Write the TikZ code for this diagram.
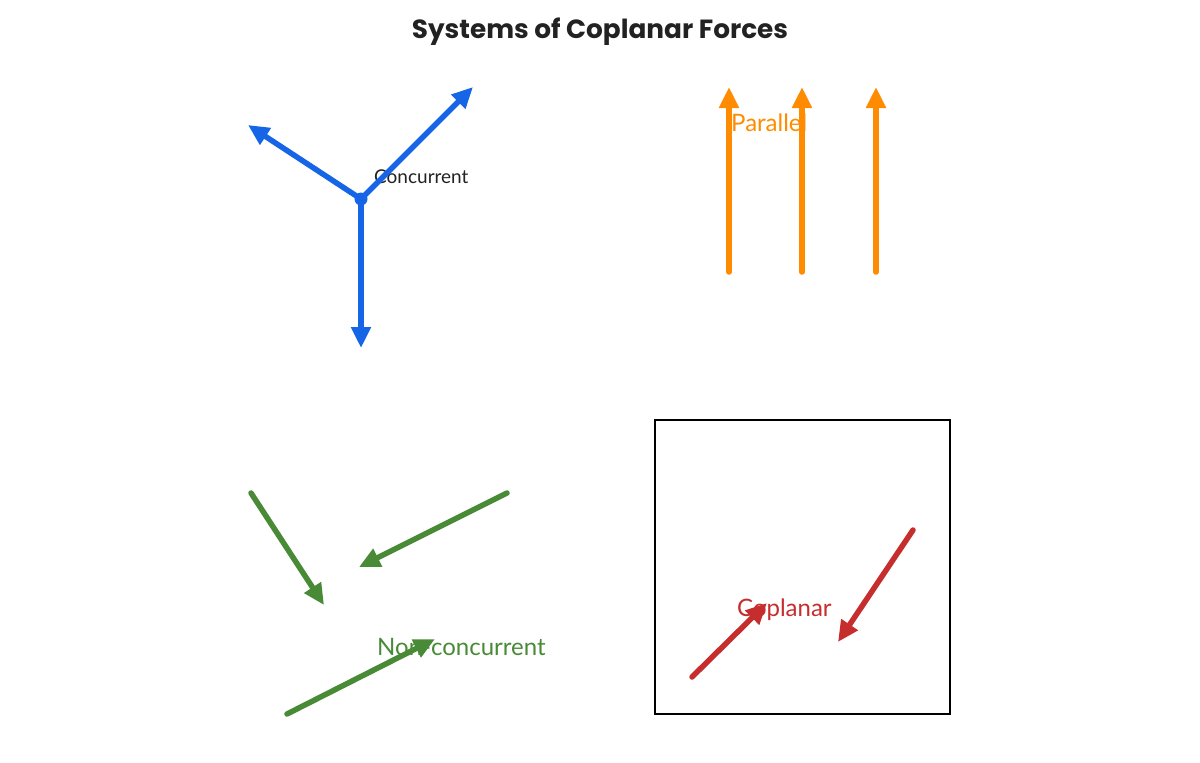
\documentclass[tikz,border=0pt]{standalone}
\usepackage{fontspec}
\setmainfont{Poppins}
\newfontfamily\labelfont{Lato}
\usetikzlibrary{arrows.meta}
\definecolor{cblue}{HTML}{1565E6}
\definecolor{corange}{HTML}{FF8C00}
\definecolor{cgreen}{HTML}{488A36}
\definecolor{cred}{HTML}{C62D2D}
\definecolor{ctitle}{HTML}{222222}
\tikzset{
  force/.style={line width=5.5pt, line cap=round, -{Triangle[length=21pt,width=19pt]}},
  lbl/.style={anchor=west, inner sep=0pt, font=\labelfont\fontsize{19}{22}\selectfont},
  biglbl/.style={anchor=west, inner sep=0pt, font=\labelfont\fontsize{24}{28}\selectfont},
}
\begin{document}
\begin{tikzpicture}[x=1pt,y=-1pt]
\useasboundingbox (0,0) rectangle (1200,763);
\node[font=\bfseries\fontsize{26.3}{31}\selectfont, text=ctitle] (title) at (600,32) {Systems of Coplanar Forces};
% Concurrent
\coordinate (c0) at (361,199);
\coordinate (c1) at (248,125);
\coordinate (c2) at (473,87);
\coordinate (c3) at (361,348);
\node[lbl, text=ctitle] (lc) at (374,177) {Concurrent};
\draw[force, cblue] (c0) -- (c1);
\draw[force, cblue] (c0) -- (c2);
\draw[force, cblue] (c0) -- (c3);
\fill[cblue] (c0) circle (6.5);
% Parallel
\node[biglbl, text=corange] (lp) at (731,123) {Parallel};
\coordinate (p1a) at (729,272); \coordinate (p1b) at (729,87);
\coordinate (p2a) at (802,272); \coordinate (p2b) at (802,87);
\coordinate (p3a) at (876,272); \coordinate (p3b) at (876,87);
\draw[force, corange] (p1a) -- (p1b);
\draw[force, corange] (p2a) -- (p2b);
\draw[force, corange] (p3a) -- (p3b);
% Non-concurrent
\node[biglbl, text=cgreen] (ln) at (377,647) {Non-concurrent};
\coordinate (n1a) at (251,493); \coordinate (n1b) at (324,605);
\coordinate (n2a) at (507,493); \coordinate (n2b) at (359,567);
\coordinate (n3a) at (287,714); \coordinate (n3b) at (435,639);
\draw[force, cgreen] (n1a) -- (n1b);
\draw[force, cgreen] (n2a) -- (n2b);
\draw[force, cgreen] (n3a) -- (n3b);
% Coplanar
\node[draw=black, line width=2pt, minimum width=295pt, minimum height=294pt, inner sep=0pt] (box) at (802.5,567) {};
\node[biglbl, text=cred] (lk) at (737,610) {Coplanar};
\coordinate (k1a) at (692,677); \coordinate (k1b) at (767,603);
\coordinate (k2a) at (913,530); \coordinate (k2b) at (838,642);
\draw[force, cred] (k1a) -- (k1b);
\draw[force, cred] (k2a) -- (k2b);
\end{tikzpicture}
\end{document}
